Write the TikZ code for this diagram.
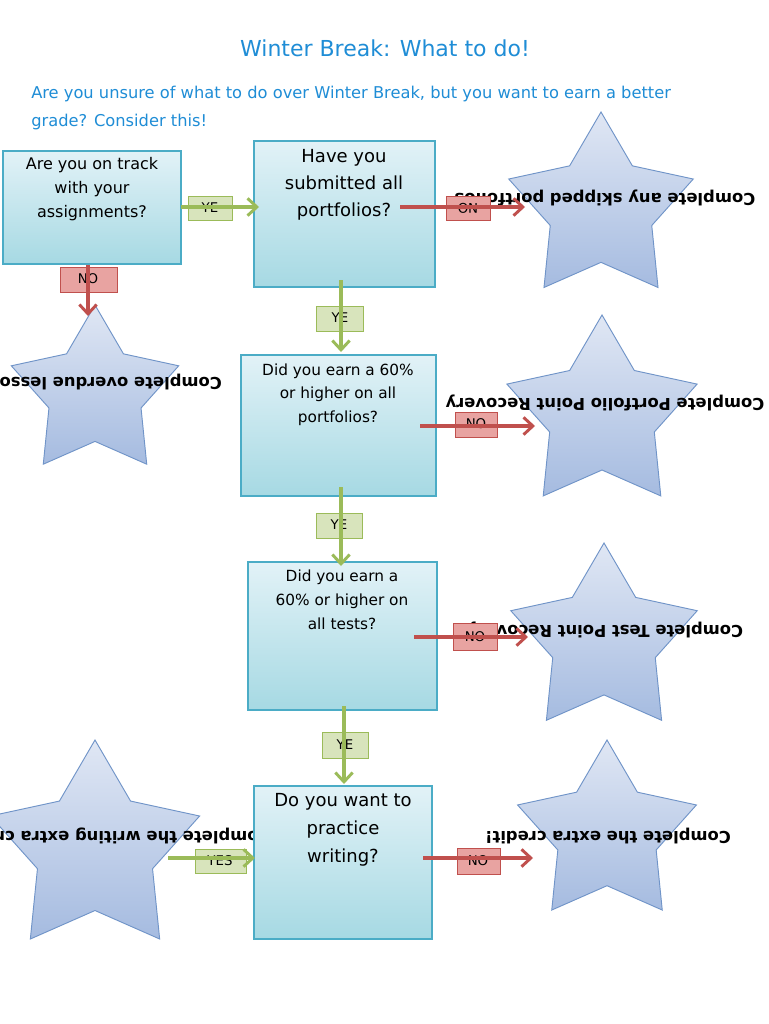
\documentclass[tikz,border=0pt]{standalone}
\usepackage{fontspec}
\setmainfont{DejaVu Sans}
\usetikzlibrary{arrows.meta,calc}
\definecolor{bx}{HTML}{4BACC6}
\definecolor{bxt}{HTML}{E2F2F7}
\definecolor{bxb}{HTML}{A6D9E3}
\definecolor{st}{HTML}{7094C8}
\definecolor{stt}{HTML}{E0E7F4}
\definecolor{stb}{HTML}{A5BBE0}
\definecolor{rd}{HTML}{C0504D}
\definecolor{rdf}{HTML}{E8A3A1}
\definecolor{gr}{HTML}{9BBB59}
\definecolor{grf}{HTML}{D8E4BC}
\definecolor{tb}{HTML}{1F8DD6}
\tikzset{
 box/.style={draw=bx,line width=0.8pt,top color=bxt,bottom color=bxb},
 btext/.style={align=center,font=\fontsize{12}{18}\selectfont,anchor=north},
 starshape/.style={draw=st,line width=0.7pt,top color=stt,bottom color=stb},
 stext/.style={rotate=180,font=\bfseries\fontsize{12.3}{14}\selectfont,inner sep=0pt},
 rlab/.style={draw=rd,fill=rdf,line width=0.6pt},
 glab/.style={draw=gr,fill=grf,line width=0.6pt},
 labt/.style={font=\fontsize{10}{12}\selectfont,inner sep=0pt},
 rarr/.style={draw=rd,line width=3pt,-{Straight Barb[length=7pt,width=13pt,line width=2.2pt]}},
 garr/.style={draw=gr,line width=3pt,-{Straight Barb[length=7pt,width=13pt,line width=2.2pt]}},
}
\newcommand\mkstar[4]{% name cx cy R
 \coordinate (#1) at (#2,#3);
 \path[starshape] ($(#2,#3)+(270:#4)$)
  \foreach \k in {0,...,4}{ -- ($(#2,#3)+(270+72*\k:#4)$) -- ($(#2,#3)+(306+72*\k:0.55*#4)$)} -- cycle;}
\begin{document}
\begin{tikzpicture}[x=0.75pt,y=-0.75pt]
\useasboundingbox (0,0) rectangle (768,1024);
\fill[white] (0,0) rectangle (768,1024);
\begin{scope}
\clip (0,0) rectangle (768,1024);
\node[text=tb,font=\fontsize{16.5}{18}\selectfont] (title) at (385,48) {Winter Break: What to do!};
\node[text=tb,font=\fontsize{12.2}{21}\selectfont,anchor=north west,align=left,inner sep=0pt] (sub) at (31,86) {Are you unsure of what to do over Winter Break, but you want to earn a better\\grade? Consider this!};
% stars
\mkstar{s1}{601}{209}{97}
\mkstar{s2}{95}{393}{88}
\mkstar{s3}{602}{415}{100}
\mkstar{s4}{604}{641}{98}
\mkstar{s5}{95}{850}{110}
\mkstar{s6}{607}{834}{94}
\node[stext] (t1) at (605,198) {Complete any skipped portfolios};
\node[stext] (t2) at (100,382) {Complete overdue lessons};
\node[stext] (t3) at (605,403) {Complete Portfolio Point Recovery};
\node[stext] (t4) at (605,630) {Complete Test Point Recovery};
\node[stext] (t5) at (112,836) {Complete the writing extra credit!};
\node[stext] (t6) at (608,836) {Complete the extra credit!};
% boxes
\path[box] (3,151) rectangle (181,264);
\node[btext] (b1) at (92,153) {Are you on track\\with your\\assignments?};
\path[box] (254,141) rectangle (435,287);
\node[btext,font=\fontsize{13.5}{20}\selectfont] (b2) at (344,145) {Have you\\submitted all\\portfolios?};
\path[box] (241,355) rectangle (436,496);
\node[btext,font=\fontsize{11.5}{17.5}\selectfont] (b3) at (338,359) {Did you earn a 60\%\\or higher on all\\portfolios?};
\path[box] (248,562) rectangle (437,710);
\node[btext,font=\fontsize{11.5}{18}\selectfont] (b4) at (342,565) {Did you earn a\\60\% or higher on\\all tests?};
\path[box] (254,786) rectangle (432,939);
\node[btext,font=\fontsize{13.5}{21}\selectfont] (b5) at (343,789) {Do you want to\\practice\\writing?};
% labels
\path[glab] (188,196) rectangle (232,220); \node[labt] (l1) at (210,208) {YE};
\path[rlab] (446,196) rectangle (490,220); \node[labt,rotate=180] (l2) at (468,208) {NO};
\path[rlab] (60,267) rectangle (117,292); \node[labt] (l3) at (88,279) {NO};
\path[glab] (316,306) rectangle (363,331); \node[labt] (l4) at (340,318) {YE};
\path[rlab] (455,412) rectangle (497,437); \node[labt] (l5) at (476,424) {NO};
\path[glab] (316,513) rectangle (362,538); \node[labt] (l6) at (339,525) {YE};
\path[rlab] (453,623) rectangle (497,650); \node[labt] (l7) at (475,637) {NO};
\path[glab] (322,732) rectangle (368,758); \node[labt] (l8) at (345,745) {YE};
\path[glab] (195,849) rectangle (246,873); \node[labt] (l9) at (220,861) {YES};
\path[rlab] (457,848) rectangle (500,874); \node[labt] (l10) at (478,861) {NO};
% arrows
\coordinate (a1s) at (181,207); \coordinate (a1e) at (259,207);
\coordinate (a2s) at (400,207); \coordinate (a2e) at (525,207);
\coordinate (a3s) at (88,265); \coordinate (a3e) at (88,316);
\coordinate (a4s) at (341,280); \coordinate (a4e) at (341,352);
\coordinate (a5s) at (420,426); \coordinate (a5e) at (535,426);
\coordinate (a6s) at (341,487); \coordinate (a6e) at (341,566);
\coordinate (a7s) at (414,637); \coordinate (a7e) at (528,637);
\coordinate (a8s) at (344,706); \coordinate (a8e) at (344,784);
\coordinate (a9s) at (168,858); \coordinate (a9e) at (255,858);
\coordinate (a10s) at (423,858); \coordinate (a10e) at (533,858);
\draw[garr] (a1s) -- (a1e);
\draw[rarr] (a2s) -- (a2e);
\draw[rarr] (a3s) -- (a3e);
\draw[garr] (a4s) -- (a4e);
\draw[rarr] (a5s) -- (a5e);
\draw[garr] (a6s) -- (a6e);
\draw[rarr] (a7s) -- (a7e);
\draw[garr] (a8s) -- (a8e);
\draw[garr] (a9s) -- (a9e);
\draw[rarr] (a10s) -- (a10e);
\end{scope}
\end{tikzpicture}
\end{document}
